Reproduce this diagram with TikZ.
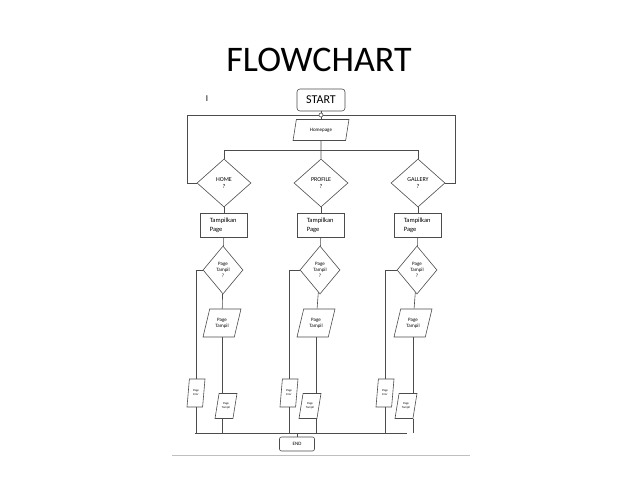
\documentclass[tikz,border=0pt]{standalone}
\usepackage{fontspec}
\setmainfont{Carlito}
\usetikzlibrary{shapes.geometric}
\begin{document}
\begin{tikzpicture}[x=1pt,y=-1pt,
  ln/.style={draw=black!70,line width=0.6pt},
  box/.style={ln,rectangle,fill=white,inner sep=0pt},
  dia/.style={ln,diamond,fill=white,inner sep=0pt,minimum width=54pt,minimum height=48pt,font=\fontsize{6}{7}\selectfont,align=center},
  sdia/.style={dia,minimum width=40pt,minimum height=48pt,font=\fontsize{5}{6}\selectfont},
  para/.style={ln,trapezium,trapezium left angle=70,trapezium right angle=110,trapezium stretches=true,fill=white,inner sep=0pt,align=center},
  wire/.style={ln}]
\useasboundingbox (0,0) rectangle (638,478);
\node[font=\fontsize{36}{40}\selectfont] (title) at (319,60) {FLOWCHART};
\node[font=\fontsize{9}{10}\selectfont] (i) at (207,99) {I};
\node[box,rounded corners=3pt,minimum width=48pt,minimum height=22pt,font=\fontsize{12}{13}\selectfont] (start) at (321,100) {START};
\node[ln,circle,fill=white,inner sep=0pt,minimum size=4pt] (c) at (321,115) {};
\node[para,minimum width=56pt,minimum height=21pt,font=\fontsize{5}{6}\selectfont] (home) at (321,130) {Homepage};
\foreach \n/\x/\t in {a/224/HOME,b/321/PROFILE,g/418/GALLERY}{
  \node[dia] (d\n) at (\x,183) {\t\\?};
  \node[box,minimum width=47pt,minimum height=24pt,align=left,font=\fontsize{6.5}{9}\selectfont] (t\n) at (\x,225) {Tampilkan\\Page\phantom{pilkan}};
}
\foreach \n/\x/\e/\p/\s in {a/223/196/222/226,b/320/289/316/310,g/417/385/413/406}{
  \node[sdia] (s\n) at (\x,270) {Page\\Tampil\\?};
  \node[para,minimum width=38pt,minimum height=28pt,font=\fontsize{5}{6}\selectfont] (p\n) at (\p,323) {Page\\Tampil};
  \node[para,trapezium left angle=80,trapezium right angle=100,minimum width=18pt,minimum height=28pt,font=\fontsize{3}{4}\selectfont] (e\n) at (\e,393) {Page\\Eror};
  \node[para,minimum width=22pt,minimum height=25pt,font=\fontsize{3}{4}\selectfont] (q\n) at (\s,406) {Page\\Tampil};
}
\node[box,rounded corners=2pt,minimum width=35pt,minimum height=14pt,font=\fontsize{5}{6}\selectfont] (end) at (297,444) {END};
\coordinate (bl) at (195,433);
\coordinate (br) at (407,433);
% wires
\draw[wire] (start) -- (c) -- (home);
\draw[wire] (c) -- (187,115) |- (da.west);
\draw[wire] (c) -- (455,115) |- (dg.east);
\draw[wire] (home) -- (db);
\draw[wire] (321,150) -| (da.north);
\draw[wire] (321,150) -| (dg.north);
\foreach \n in {a,b,g}{
  \draw[wire] (d\n) -- (t\n);
  \draw[wire] (t\n) -- (s\n);
  \draw[wire] (s\n) -- (p\n);
  \draw[wire] (s\n.west) -| (e\n.north);
  \draw[wire] (p\n.south) -- (p\n.south |- q\n.north);
  \draw[wire] (e\n.south) -- (e\n.south |- bl);
  \draw[wire] (p\n.south |- q\n.south) -- (p\n.south |- bl);
}
\draw[wire] (bl) -- (br);
\draw[wire] (end.north) -- (end.north |- bl);
\draw[black!25,line width=0.8pt] (172,455) -- (470,455);
\end{tikzpicture}
\end{document}
